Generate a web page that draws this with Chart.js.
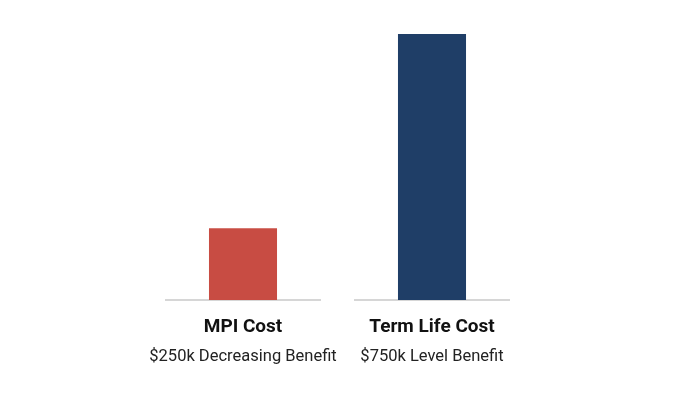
<!DOCTYPE html>
<html>
<head>
<meta charset="utf-8">
<script src="https://cdn.jsdelivr.net/npm/chart.js@4"></script>
<style>
  html, body { margin: 0; padding: 0; background: #ffffff; }
  #wrap { width: 700px; height: 393px; position: relative; }
</style>
</head>
<body>
<div id="wrap"><canvas id="c"></canvas></div>
<script>
const categories = ['MPI Cost', 'Term Life Cost'];
const subtitles = ['$250k Decreasing Benefit', '$750k Level Benefit'];
const costValues = [27, 100];
const barColors = ['#c84c43', '#1f3e67'];

const baselinePlugin = {
  id: 'baselines',
  beforeDatasetsDraw(chart) {
    const ctx = chart.ctx;
    const xs = chart.scales.x;
    const ys = chart.scales.y;
    const y0 = ys.getPixelForValue(0);
    ctx.save();
    ctx.strokeStyle = '#c9c9c9';
    ctx.lineWidth = 1.5;
    categories.forEach((c, i) => {
      const cx = xs.getPixelForValue(i);
      ctx.beginPath();
      ctx.moveTo(cx - 78, y0);
      ctx.lineTo(cx + 78, y0);
      ctx.stroke();
    });
    ctx.restore();
  }
};

new Chart(document.getElementById('c'), {
  type: 'bar',
  data: {
    labels: categories,
    datasets: [{
      data: costValues,
      backgroundColor: barColors,
      borderWidth: 0,
      barPercentage: 0.6,
      categoryPercentage: 0.6,
      xAxisID: 'x'
    }]
  },
  options: {
    responsive: true,
    maintainAspectRatio: false,
    animation: false,
    layout: { padding: { left: 148.5, right: 173.5, top: 34, bottom: 25 } },
    plugins: { legend: { display: false }, tooltip: { enabled: false } },
    scales: {
      x: {
        type: 'category',
        position: 'bottom',
        grid: { display: false, drawTicks: false },
        border: { display: false },
        ticks: {
          padding: 16,
          maxRotation: 0,
          autoSkip: false,
          color: '#111111',
          font: { family: 'Roboto', size: 19, weight: 'bold' }
        },
        afterFit(s) { s.height = 32; }
      },
      x2: {
        type: 'category',
        position: 'bottom',
        labels: subtitles,
        grid: { display: false, drawTicks: false },
        border: { display: false },
        ticks: {
          padding: 15,
          maxRotation: 0,
          autoSkip: false,
          color: '#222222',
          font: { family: 'Roboto', size: 16.5, weight: 'normal' }
        },
        afterFit(s) { s.height = 36; }
      },
      y: {
        display: false,
        min: 0,
        max: 100
      }
    }
  },
  plugins: [baselinePlugin]
});
</script>
</body>
</html>
